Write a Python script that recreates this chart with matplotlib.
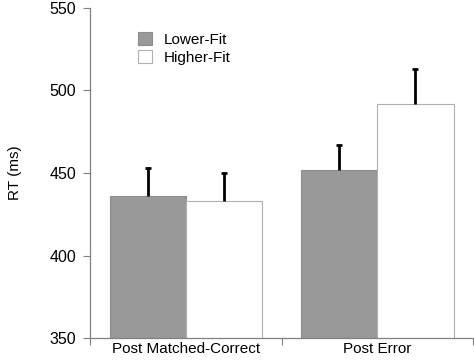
import numpy as np
import matplotlib.pyplot as plt

plt.rcParams['font.family'] = ['Liberation Sans', 'DejaVu Sans']

categorias = ['Post Matched-Correct', 'Post Error']
lower_fit = [436, 452]
higher_fit = [433, 492]
erro_lower = [17, 15]
erro_higher = [17, 21]

fig = plt.figure(figsize=(4.74, 3.62), dpi=100)
ax = fig.add_axes([0.19, 0.066, 0.808, 0.912])

x = np.arange(len(categorias))
largura = 0.398
cinza = '#999999'
borda = '#8c8c8c'

ax.bar(x - largura / 2, lower_fit, largura, color=cinza, edgecolor=borda,
       linewidth=0.8, label='Lower-Fit', zorder=2)
ax.bar(x + largura / 2, higher_fit, largura, color='white', edgecolor='#b0b0b0',
       linewidth=0.8, label='Higher-Fit', zorder=2)

# barras de erro apenas para cima (sem o cap de baixo)
for pos, vals, errs in [(x - largura / 2, lower_fit, erro_lower),
                        (x + largura / 2, higher_fit, erro_higher)]:
    eb = ax.errorbar(pos, vals, yerr=[[0] * len(vals), errs], fmt='none',
                     ecolor='black', elinewidth=2, capsize=2.5, capthick=2,
                     zorder=3)
    eb[1][0].set_visible(False)

ax.set_ylim(350, 550)
ax.set_xlim(-0.5, 1.5)
ax.set_yticks([350, 400, 450, 500, 550])
ax.set_xticks([-0.5, 0.5, 1.5], minor=False)
ax.set_xticklabels([])
ax.set_xticks(x, minor=True)
ax.set_xticklabels(categorias, minor=True, fontsize=11)
ax.tick_params(axis='x', which='minor', length=0, pad=3)
ax.tick_params(axis='x', which='major', length=5, color='#808080', direction='out')
ax.tick_params(axis='y', length=5, color='#808080', labelsize=11.5, pad=5)

for lado in ['top', 'right']:
    ax.spines[lado].set_visible(False)
for lado in ['left', 'bottom']:
    ax.spines[lado].set_color('#808080')
    ax.spines[lado].set_linewidth(0.9)

ax.set_ylabel('RT (ms)', fontsize=11, labelpad=20)

leg = ax.legend(loc='upper left', bbox_to_anchor=(0.108, 0.945), frameon=False,
                fontsize=11, handlelength=0.92, handleheight=0.92,
                handletextpad=0.8, labelspacing=0.2, borderaxespad=0)

fig.savefig('out.png', dpi=100)
